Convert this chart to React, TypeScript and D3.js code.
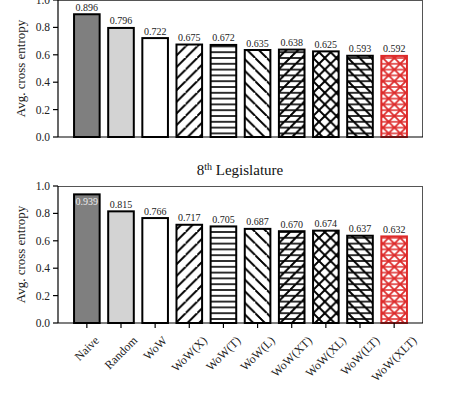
import React from "react";
import * as d3 from "d3";

const methods = ["Naive", "Random", "WoW", "WoW(X)", "WoW(T)", "WoW(L)", "WoW(XT)", "WoW(XL)", "WoW(LT)", "WoW(XLT)"];
const topValues = [0.896, 0.796, 0.722, 0.675, 0.672, 0.635, 0.638, 0.625, 0.593, 0.592];
const bottomValues = [0.939, 0.815, 0.766, 0.717, 0.705, 0.687, 0.670, 0.674, 0.637, 0.632];
const yTicks = [0, 0.2, 0.4, 0.6, 0.8, 1.0];
const fills = ["#7f7f7f", "#d3d3d3", "#fff", "url(#h-fwd)", "url(#h-hor)", "url(#h-back)", "url(#h-fwdhor)", "url(#h-cross)", "url(#h-backhor)", "url(#h-red)"];

const FONT = "Liberation Serif, DejaVu Serif, serif";
const RED = "#dd2a2a";
const LEFT = 58;
const RIGHT = 423;

const x = d3.scaleBand().domain(methods).range([LEFT, RIGHT]).paddingInner(0.25).paddingOuter(0.47);

let ctx = null;
const measure = (s, font) => {
  if (!ctx) ctx = document.createElement("canvas").getContext("2d");
  ctx.font = font;
  return ctx.measureText(s).width;
};

const Hatch = ({ id, fwd, back, hor, color = "#000", sw = 1.6 }) => {
  const p = 11.6;
  return (
    <pattern id={id} patternUnits="userSpaceOnUse" width={p} height={p}>
      <rect width={p} height={p} fill="#fff" />
      {hor && (
        <g stroke={color} strokeWidth={sw}>
          <line x1={0} x2={p} y1={0} y2={0} />
          <line x1={0} x2={p} y1={p / 2} y2={p / 2} />
          <line x1={0} x2={p} y1={p} y2={p} />
        </g>
      )}
      {fwd && (
        <g stroke={color} strokeWidth={sw}>
          <line x1={-p} x2={p} y1={p * 2} y2={0} />
          <line x1={0} x2={p * 2} y1={p} y2={-p} />
          <line x1={-p} x2={p} y1={p} y2={-p} />
        </g>
      )}
      {back && (
        <g stroke={color} strokeWidth={sw}>
          <line x1={-p} x2={p} y1={-p} y2={p} />
          <line x1={0} x2={p * 2} y1={0} y2={p * 2} />
          <line x1={-p} x2={p} y1={0} y2={p * 2} />
        </g>
      )}
    </pattern>
  );
};

const Panel = ({ values, y0, y1, title, ticks, labels, naiveInside }) => {
  const y = d3.scaleLinear().domain([0, 1]).range([y0, y1]);
  return (
    <g>
      {title && (
        <text x={240} y={y1 - 11} textAnchor="middle" fontSize={15} fontFamily={FONT} fill="#111">
          8<tspan fontSize={10} dy={-5}>th</tspan>
          <tspan dy={5}> Legislature</tspan>
        </text>
      )}
      <line x1={LEFT} x2={RIGHT} y1={y1 + 0.5} y2={y1 + 0.5} stroke="#555" />
      <line x1={RIGHT - 0.5} x2={RIGHT - 0.5} y1={y1} y2={y0} stroke="#555" />
      {values.map((v, i) => {
        const m = methods[i];
        const red = i === methods.length - 1;
        const inside = naiveInside && i === 0;
        return (
          <g key={m}>
            <rect
              x={x(m)}
              y={y(v)}
              width={x.bandwidth()}
              height={y0 - y(v)}
              fill={fills[i]}
              stroke={red ? RED : "#000"}
              strokeWidth={2}
            />
            <text
              x={x(m) + x.bandwidth() / 2}
              y={inside ? y(v) + 11 : y(v) - 3.5}
              textAnchor="middle"
              fontSize={10}
              fontFamily={FONT}
              fill={inside ? "#eee" : "#222"}
            >
              {v.toFixed(3)}
            </text>
          </g>
        );
      })}
      <line x1={LEFT} x2={LEFT} y1={y1} y2={y0} stroke="#000" strokeWidth={1.2} />
      <line x1={LEFT} x2={RIGHT} y1={y0} y2={y0} stroke="#000" strokeWidth={1.2} />
      {yTicks.map(t => (
        <g key={t}>
          <line x1={LEFT - 5} x2={LEFT} y1={y(t)} y2={y(t)} stroke="#000" strokeWidth={1.2} />
          <text x={LEFT - 8} y={y(t)} dy="0.35em" textAnchor="end" fontSize={11.5} fontFamily={FONT} fill="#222">
            {t.toFixed(1)}
          </text>
        </g>
      ))}
      <text
        transform={`translate(20,${(y0 + y1) / 2}) rotate(-90)`}
        textAnchor="middle"
        dy="0.35em"
        fontSize={13}
        fontFamily={FONT}
        fill="#222"
      >
        Avg. cross entropy
      </text>
      {ticks &&
        methods.map(m => (
          <line key={m} x1={x(m) + x.bandwidth() / 2} x2={x(m) + x.bandwidth() / 2} y1={y0} y2={y0 + 5} stroke="#000" strokeWidth={1.2} />
        ))}
      {labels &&
        methods.map(m => {
          const fs = 12;
          const L = measure(m, `${fs}px ${FONT}`);
          const half = (L + fs * 0.8) / (2 * Math.SQRT2);
          const cx = x(m) + x.bandwidth() / 2;
          const cy = y0 + 12 + half;
          return (
            <text
              key={m}
              transform={`translate(${cx},${cy}) rotate(-45)`}
              textAnchor="middle"
              dy="0.33em"
              fontSize={fs}
              fontFamily={FONT}
              fill="#222"
            >
              {m}
            </text>
          );
        })}
    </g>
  );
};

const App = () => {
  return (
    <svg width={474} height={395} style={{ position: "absolute", left: 0, top: 0, background: "#fff" }}>
      <defs>
        <Hatch id="h-fwd" fwd />
        <Hatch id="h-back" back />
        <Hatch id="h-hor" hor />
        <Hatch id="h-fwdhor" fwd hor />
        <Hatch id="h-backhor" back hor />
        <Hatch id="h-cross" fwd back />
        <Hatch id="h-red" fwd back hor color={RED} sw={1.5} />
      </defs>
      <Panel values={topValues} y0={137} y1={0} />
      <Panel values={bottomValues} y0={323} y1={186} title ticks labels naiveInside />
    </svg>
  );
};

export default App;
